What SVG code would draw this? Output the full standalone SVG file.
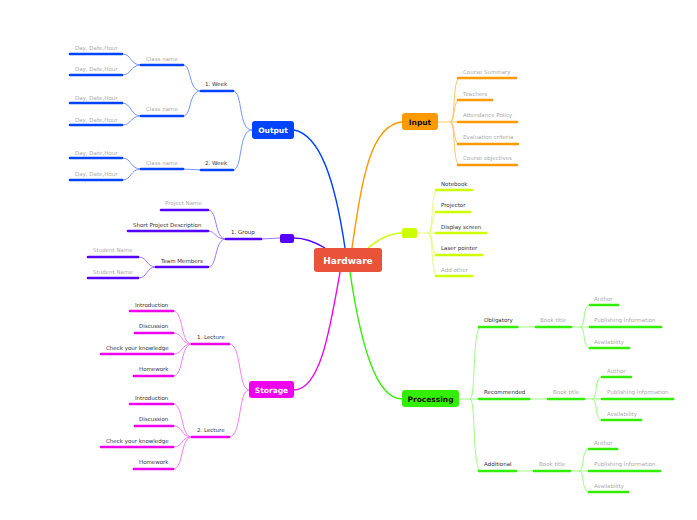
<svg xmlns="http://www.w3.org/2000/svg" width="697" height="520" viewBox="0 0 697 520">
<style>
text{font-family:"DejaVu Sans","Liberation Sans",sans-serif;font-size:5.5px}
.g{fill:#aaaaaa}.d{fill:#333333}
.n{font-weight:bold;font-size:7.5px}
.u{stroke-width:2.6;stroke-linecap:round;fill:none}
.c{fill:none;stroke-width:1}
.b .u{stroke:#0044ff}.b .c{stroke:#6f95ff}
.p .u{stroke:#5500ff}.p .c{stroke:#9a77ff}
.o .u{stroke:#ff9900}.o .c{stroke:#ffc56b}
.y .u{stroke:#ccff00}.y .c{stroke:#e3ff77}
.gr .u{stroke:#33ee00}.gr .c{stroke:#9cff7f}
.m .u{stroke:#ee00ee}.m .c{stroke:#f57ff5}
</style>
<g id="connectors" fill="none" stroke-width="1.4">
<path d="M345,248 C335,180 320,135 294,130" stroke="#0044ff"/>
<path d="M352,248 C362,180 370,125 402,122" stroke="#ff9900"/>
<path d="M368,248 C380,238 390,233 402,233" stroke="#ccff00"/>
<path d="M325,248 C315,242 305,238 294,238" stroke="#5500ff"/>
<path d="M340,272 C330,330 320,390 294,390" stroke="#ee00ee"/>
<path d="M350,272 C360,340 375,399 402,399" stroke="#33ee00"/>
</g>
<g id="output" class="b">
<path class="c" d="M252,130 C238,130 243,91 233,91 M252,130 C238,130 243,170 233,170 M201,91 C188,91 192,65 183,65 M201,91 C188,91 192,116 183,116 M183,169 L201,170 M141,65 C130,65 132,54 122,54 M141,65 C130,65 132,75 122,75 M141,116 C130,116 132,103 122,103 M141,116 C130,116 132,125 122,125 M141,169 C130,169 132,158 122,158 M141,169 C130,169 132,180 122,180"/>
<rect x="252" y="121" width="42" height="18" rx="3" fill="#0044ff"/>
<text x="273" y="133" text-anchor="middle" class="n" fill="#fff">Output</text>
<path class="u" d="M201,91H233M201,170H233M141,65H183M141,116H183M141,169H183M70,54H122M70,75H122M70,103H122M70,125H122M70,158H122M70,180H122"/>
<text x="205" y="86" class="d">1.  Week</text><text x="205" y="165" class="d">2.  Week</text>
<text x="146" y="61" class="g">Class name</text><text x="146" y="111" class="g">Class name</text><text x="146" y="165" class="g">Class name</text>
<text x="75" y="50" class="g">Day, Date,Hour</text><text x="75" y="71" class="g">Day, Date,Hour</text><text x="75" y="100" class="g">Day, Date,Hour</text><text x="75" y="122" class="g">Day, Date,Hour</text><text x="75" y="155" class="g">Day, Date,Hour</text><text x="75" y="176" class="g">Day, Date,Hour</text>
</g>
<g id="group" class="p">
<path class="c" d="M280,238 L261,239 M226,239 C214,239 218,210 208,210 M226,239 C214,239 216,231 208,231 M226,239 C214,239 218,267 208,267 M156,267 C146,267 148,257 138,257 M156,267 C146,267 148,278 138,278"/>
<rect x="280" y="234" width="14" height="9" rx="2" fill="#5500ff"/>
<path class="u" d="M226,239H261M161,210H208M128,231H208M156,267H208M88,257H138M88,278H138"/>
<text x="231" y="234" class="d">1.  Group</text>
<text x="165" y="205" class="g">Project Name</text><text x="133" y="227" class="d">Short Project Description</text><text x="161" y="263" class="d">Team Members</text>
<text x="93" y="252" class="g">Student Name</text><text x="93" y="274" class="g">Student Name</text>
</g>
<g id="input" class="o">
<path class="c" d="M438,122 L450,122 M450,122 C456,122 452,78 460,78 M450,122 C456,122 452,100 460,100 M450,122 L460,122 M450,122 C456,122 452,144 460,144 M450,122 C456,122 452,165 460,165"/>
<rect x="402" y="113" width="36" height="17" rx="3" fill="#ff9900"/>
<text x="420" y="124.5" text-anchor="middle" class="n" fill="#111">Input</text>
<path class="u" d="M458,78H516M458,100H492M458,122H517M458,144H518M458,165H517"/>
<text x="463" y="74" class="g">Course Summary</text><text x="463" y="96" class="g">Teachers</text><text x="463" y="117" class="g">Attendance Policy</text><text x="463" y="139" class="g">Evaluation criteria</text><text x="463" y="160" class="g">Course objectives</text>
</g>
<g id="equipment" class="y">
<path class="c" d="M417,233 L428,233 M428,233 C434,233 430,190 438,190 M428,233 C434,233 430,212 438,212 M428,233 L438,233 M428,233 C434,233 430,255 438,255 M428,233 C434,233 430,276 438,276"/>
<rect x="402" y="228" width="15" height="10" rx="2" fill="#ccff00"/>
<path class="u" d="M436,190H472M436,212H470M436,233H486M436,255H482M436,276H472"/>
<text x="441" y="186" class="d">Notebook</text><text x="441" y="207" class="d">Projector</text><text x="441" y="229" class="d">Display screen</text><text x="441" y="250" class="d">Laser pointer</text><text x="441" y="272" class="g">Add other</text>
</g>
<g id="processing" class="gr">
<path class="c" d="M459,399 L470,399 M470,399 C476,399 472,327 481,327 M470,399 L481,399 M470,399 C476,399 472,471 481,471 M517,327H536 M529,399H548 M516,471H534 M571,327H580 C586,327 582,305 590,305 M580,327H590 M580,327 C586,327 582,348 590,348 M584,399H592 C598,399 594,377 602,377 M592,399H602 M592,399 C598,399 594,420 602,420 M570,471H579 C585,471 581,449 589,449 M579,471H589 M579,471 C585,471 581,492 589,492"/>
<rect x="402" y="390" width="57" height="17" rx="3" fill="#33ee00"/>
<text x="430.5" y="401.5" text-anchor="middle" class="n" fill="#111">Processing</text>
<path class="u" d="M479,327H517M536,327H571M590,305H618M590,327H661M590,348H629M479,399H529M548,399H584M602,377H631M602,399H673M602,420H641M479,471H516M534,471H570M589,449H617M589,471H660M589,492H628"/>
<text x="484" y="322" class="d">Obligatory</text><text x="540" y="322" class="g">Book title</text><text x="594" y="301" class="g">Author</text><text x="594" y="322" class="g">Publishing information</text><text x="594" y="344" class="g">Availability</text>
<text x="484" y="394" class="d">Recommended</text><text x="553" y="394" class="g">Book title</text><text x="607" y="373" class="g">Author</text><text x="607" y="394" class="g">Publishing information</text><text x="607" y="416" class="g">Availability</text>
<text x="484" y="466" class="d">Additional</text><text x="539" y="466" class="g">Book title</text><text x="594" y="445" class="g">Author</text><text x="594" y="466" class="g">Publishing information</text><text x="594" y="488" class="g">Availability</text>
</g>
<g id="storage" class="m">
<path class="c" d="M249,390 C238,390 242,344 229,344 M249,390 C238,390 242,437 229,437 M192,344 C180,344 184,311 173,311 M192,344 C180,344 184,333 173,333 M192,344 C180,344 184,354 173,354 M192,344 C180,344 184,376 173,376 M192,437 C180,437 184,404 173,404 M192,437 C180,437 184,426 173,426 M192,437 C180,437 184,447 173,447 M192,437 C180,437 184,469 173,469"/>
<rect x="249" y="381" width="45" height="17" rx="3" fill="#ee00ee"/>
<text x="271.5" y="392.5" text-anchor="middle" class="n" fill="#fff">Storage</text>
<path class="u" d="M192,344H229M192,437H229M130,311H173M135,333H173M101,354H173M134,376H173M130,404H173M135,426H173M101,447H173M134,469H173"/>
<text x="197" y="339" class="d">1.  Lecture</text><text x="197" y="432" class="d">2.  Lecture</text>
<text x="135" y="307" class="d">Introduction</text><text x="139" y="328" class="d">Discussion</text><text x="106" y="350" class="d">Check your knowledge</text><text x="139" y="371" class="d">Homework</text>
<text x="135" y="400" class="d">Introduction</text><text x="139" y="421" class="d">Discussion</text><text x="106" y="443" class="d">Check your knowledge</text><text x="139" y="464" class="d">Homework</text>
</g>
<g id="hardware">
<rect x="314" y="248" width="68" height="24" rx="3" fill="#e8533a"/>
<text x="348" y="263.5" text-anchor="middle" class="n" fill="#fff" style="font-size:9px">Hardware</text>
</g>
</svg>
